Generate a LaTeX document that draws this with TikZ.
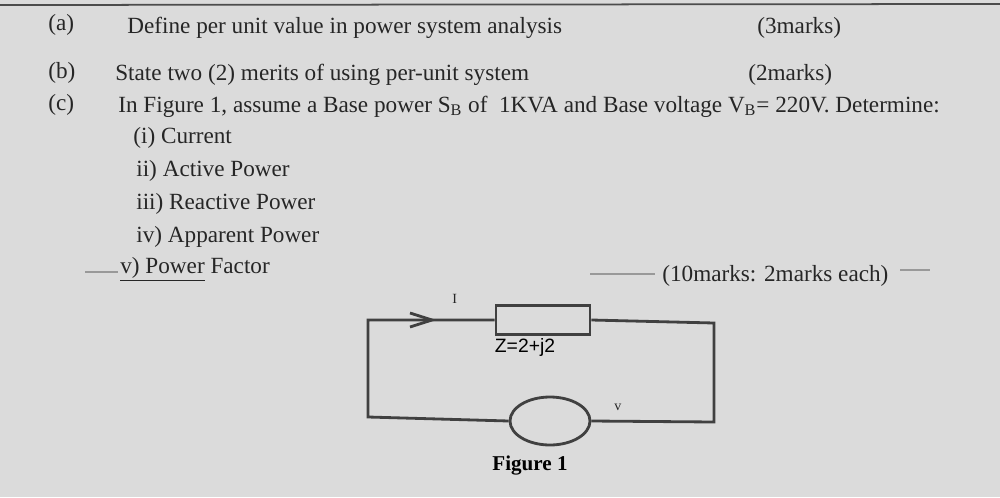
\documentclass[tikz,border=0pt]{standalone}
\usepackage{fontspec}
\usetikzlibrary{shapes.geometric}
\setmainfont{Liberation Serif}
\setsansfont{Liberation Sans}
\begin{document}
\begin{tikzpicture}[x=0.02cm,y=-0.02cm,
  t/.style={anchor=base west,inner sep=0pt,font=\fontsize{13.2}{15}\selectfont,text=black!85},
  wire/.style={line width=1.6pt,draw=black!75}]
\fill[black!14] (0,0) rectangle (1000,497);
\useasboundingbox (0,0) rectangle (1000,497);
\draw[black!70,line width=1pt] (0,5) -- (1000,4);
\node[t] (la) at (48,31) {(a)};
\node[t] (qa) at (127,33) {Define per unit value in power system analysis};
\node[t] (ma) at (757,33) {(3marks)};
\node[t] (lb) at (48,78) {(b)};
\node[t] (qb) at (115,80) {State two (2) merits of using per-unit system};
\node[t] (mb) at (748,80) {(2marks)};
\node[t] (lc) at (48,110) {(c)};
\node[t] (qc) at (118,112) {In Figure 1, assume a Base power S\textsubscript{B} of \ 1KVA and Base voltage V\textsubscript{B}= 220V. Determine:};
\node[t] (i1) at (133,143) {(i) Current};
\node[t] (i2) at (136,176) {ii) Active Power};
\node[t] (i3) at (136,209) {iii) Reactive Power};
\node[t] (i4) at (136,242) {iv) Apparent Power};
\node[t] (i5) at (120,273) {\underline{v) Power} Factor};
\node[t] (m5) at (662,281) {(10marks: 2marks each)};
\draw[black!40,line width=0.6pt] (85,272) -- (118,272);
\draw[black!40,line width=0.6pt] (590,274) -- (655,274);
\draw[black!40,line width=0.6pt] (900,270) -- (930,270);
% circuit
\node[draw=black!75,line width=1.6pt,minimum width=94*0.02cm,minimum height=29*0.02cm,inner sep=0pt] (z) at (543,320) {};
\node[draw=black!75,line width=1.6pt,ellipse,minimum width=80*0.02cm,minimum height=48*0.02cm,inner sep=0pt] (src) at (550,421) {};
\coordinate (tl) at (368,320);
\coordinate (bl) at (368,417);
\coordinate (tr) at (714,323);
\coordinate (br) at (714,422);
\draw[wire] (z.west) -- (tl) -- (bl) -- (src.west);
\draw[wire] (z.east) -- (tr) -- (br) -- (src.east);
\draw[wire] (410,313) -- (432,320) -- (410,327);
\node[t,font=\fontsize{8}{9}\selectfont] (il) at (452,303) {I};
\node[inner sep=0pt,font=\sffamily\fontsize{11}{12}\selectfont] (zl) at (525,347) {Z=2+j2};
\node[t,font=\fontsize{8}{9}\selectfont] (vl) at (614,410) {v};
\node[inner sep=0pt,font=\bfseries\fontsize{12}{14}\selectfont] (fig) at (530,466) {Figure 1};
\end{tikzpicture}
\end{document}
